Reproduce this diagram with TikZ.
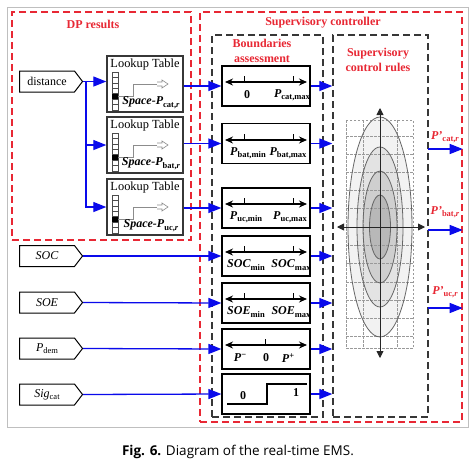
\documentclass[tikz,border=0pt]{standalone}
\usepackage{fontspec}
\setmainfont{Liberation Serif}
\newfontfamily\capfont{Open Sans}
\usetikzlibrary{arrows.meta,shapes.symbols}
\definecolor{dpred}{RGB}{232,40,52}
\definecolor{arrblue}{RGB}{10,10,235}
\definecolor{dgray}{RGB}{55,55,55}
\newcommand\Pb[2]{\textbf{\textit{#1}}\raisebox{-0.45ex}{\fontsize{8.5}{9}\selectfont\bfseries #2}}
\newcommand\Psup[2]{\textbf{\textit{#1}}\raisebox{0.75ex}{\fontsize{8.5}{9}\selectfont\bfseries #2}}
\newcommand\Preg[2]{\textit{#1}\raisebox{-0.45ex}{\fontsize{8.5}{9}\selectfont #2}}
\tikzset{
  redbox/.style={draw=dpred, dash pattern=on 7pt off 4pt, line width=1.4pt, inner sep=0pt},
  blkbox/.style={draw=dgray, dash pattern=on 7pt off 4pt, line width=1.4pt, inner sep=0pt},
  bluearr/.style={draw=arrblue, line width=1.3pt, -{Triangle[length=13pt,width=10pt]}},
  blueline/.style={draw=arrblue, line width=1.3pt},
  bndbox/.style={draw=black, line width=1.2pt, minimum width=88pt, minimum height=40pt, inner sep=0pt},
  lookbox/.style={draw=dgray, line width=1.4pt, minimum width=76pt, minimum height=56pt, inner sep=0pt},
  insig/.style={signal, signal to=east, signal pointer angle=105, draw=black, line width=1pt,
    minimum width=63pt, minimum height=21pt, inner sep=0pt, font=\fontsize{12}{14}\selectfont},
  rng/.style={black, line width=1.1pt, {Stealth[length=8pt,width=7pt]}-{Stealth[length=8pt,width=7pt]}},
  tick/.style={black, line width=0.9pt},
  txt/.style={font=\fontsize{12}{14}\selectfont, inner sep=0pt},
  redlbl/.style={text=dpred, font=\fontsize{12}{14}\selectfont\bfseries, inner sep=0pt, align=center},
  sq/.style={draw=black!70, line width=0.5pt},
  grayln/.style={draw=black!45, line width=0.7pt},
  grid/.style={draw=black!40, dash pattern=on 2.5pt off 1.5pt, line width=0.6pt},
  ell/.style={draw=black!60, line width=0.8pt},
  axis/.style={draw=black!85, line width=0.9pt, {Triangle[length=7pt,width=7pt]}-{Triangle[length=7pt,width=7pt]}}
}
\begin{document}
\begin{tikzpicture}[x=1pt,y=-1pt]
\useasboundingbox (0,0) rectangle (474,464);
\fill[white] (0,0) rectangle (474,464);
% outer frame and caption
\node[draw=black!25, line width=1pt, minimum width=461pt, minimum height=420pt, inner sep=0pt] (frame) at (237.5,217) {};
\node[font=\capfont\fontsize{13.5}{15}\selectfont, inner sep=0pt] (cap) at (238,452) {\textbf{Fig. 6.} Diagram of the real-time EMS.};
% containers
\node[redbox, minimum width=179pt, minimum height=228pt] (dp) at (101.5,126) {};
\node[redbox, minimum width=262pt, minimum height=410pt] (sup) at (331,217) {};
\node[blkbox, minimum width=111pt, minimum height=382pt] (bnd) at (267.5,226) {};
\node[blkbox, minimum width=95pt, minimum height=382pt] (rules) at (380.5,226) {};
\node[redlbl] (dpl) at (93,24) {DP results};
\node[redlbl] (supl) at (323,23) {Supervisory controller};
\node[redlbl, font=\fontsize{12}{15}\selectfont\bfseries] (bndl) at (262,51) {Boundaries\\assessment};
\node[redlbl, font=\fontsize{12}{15}\selectfont\bfseries] (rull) at (378,60) {Supervisory\\control rules};
% inputs
\node[insig] (dist) at (47,81.5) {distance};
\node[insig] (soc) at (47,256) {\textit{SOC}};
\node[insig] (soe) at (47,302.5) {\textit{SOE}};
\node[insig] (pdem) at (47,348.5) {\Preg{P}{dem}};
\node[insig] (sig) at (47,394.5) {\Preg{Sig}{cat}};
% lookup tables
\foreach \i/\T/\s in {1/56/cat,2/117/bat,3/179/uc}{
  \node[lookbox] (lk\i) at (145,\T+28) {};
  \node[txt, font=\fontsize{12.4}{14}\selectfont] (lkt\i) at (145,\T+8.5) {Lookup Table};
  \foreach \k in {0,...,6}{\draw[sq] (112,\T+16+\k*5.4) rectangle (118,\T+21.4+\k*5.4);}
  \fill[black] (112,\T+37.6) rectangle (118,\T+43);
  \draw[grayln] (118,\T+40.3) -- (133,\T+40.3) -- (133,\T+28) -- (157,\T+28);
  \draw[grayln, line width=0.6pt] (157,\T+26) -- (162,\T+26) -- (162,\T+24) -- (168,\T+28) -- (162,\T+32) -- (162,\T+30) -- (157,\T+30);
  \node[txt] (sp\i) at (151,\T+46.5) {\Pb{Space-P}{\s,\textit{r}}};
}
% boundary boxes
\node[bndbox] (b1) at (266,86) {};
\node[bndbox] (b2) at (266,143.5) {};
\node[bndbox] (b3) at (266,208) {};
\node[bndbox] (b4) at (266,256) {};
\node[bndbox] (b5) at (266,303) {};
\node[bndbox] (b6) at (266,349) {};
\node[bndbox] (b7) at (266,394) {};
\foreach \T in {66,124,188,236,283}{
  \draw[rng] (225,\T+16) -- (307,\T+16);
  \draw[tick] (244,\T+16) -- (244,\T+10);
  \draw[tick] (293,\T+16) -- (293,\T+10);
}
\node[txt] (l1a) at (247,95) {\textbf{0}};
\node[txt] (l1b) at (292,95) {\Pb{P}{cat,max}};
\node[txt] (l2a) at (248,153) {\Pb{P}{bat,min}};
\node[txt] (l2b) at (288,153) {\Pb{P}{bat,max}};
\node[txt] (l3a) at (246,217) {\Pb{P}{uc,min}};
\node[txt] (l3b) at (290,217) {\Pb{P}{uc,max}};
\node[txt] (l4a) at (246,265) {\Pb{SOC}{min}};
\node[txt] (l4b) at (291,265) {\Pb{SOC}{max}};
\node[txt] (l5a) at (246,312) {\Pb{SOE}{min}};
\node[txt] (l5b) at (291,312) {\Pb{SOE}{max}};
\draw[rng] (225,345) -- (307,345);
\draw[tick] (265,345) -- (265,339);
\node[txt] (l6a) at (240,358) {\Psup{P}{−}};
\node[txt] (l6b) at (266,358) {\textbf{0}};
\node[txt] (l6c) at (288,358) {\Psup{P}{+}};
\draw[black, line width=1.1pt] (227,404) -- (267,404) -- (267,384) -- (307,384);
\node[txt] (l7a) at (243,396) {\textbf{0}};
\node[txt] (l7b) at (296,393) {\textbf{1}};
% ellipse figure
\fill[black!5] (380,227) ellipse [x radius=32pt, y radius=110pt];
\fill[black!11] (380,227) ellipse [x radius=23pt, y radius=80pt];
\fill[black!19] (380,227) ellipse [x radius=17pt, y radius=56pt];
\fill[black!28] (380,227) ellipse [x radius=10.5pt, y radius=32pt];
\draw[grid] (346,120) rectangle (413,348);
\foreach \x in {363,397}{\draw[grid] (\x,120) -- (\x,348);}
\foreach \y in {136,154,172,190,208,245,263,282,300,318,336}{\draw[grid] (346,\y) -- (413,\y);}
\draw[ell] (380,227) ellipse [x radius=32pt, y radius=110pt];
\draw[ell] (380,227) ellipse [x radius=23pt, y radius=80pt];
\draw[ell] (380,227) ellipse [x radius=17pt, y radius=56pt];
\draw[ell] (380,227) ellipse [x radius=10.5pt, y radius=32pt];
\draw[axis] (380,108) -- (380,358);
\draw[axis] (337,227) -- (425,227);
% connectors
\coordinate (split) at (86,81.5);
\draw[blueline] (dist.east) -- (split);
\draw[bluearr] (split) -- (split -| lk1.west);
\draw[bluearr] (split) |- (lk2.west);
\draw[bluearr] (split) |- (lk3.west);
\draw[bluearr] (lk1.east |- b1.west) -- (b1.west);
\draw[bluearr] (lk2.east |- b2.west) -- (b2.west);
\draw[bluearr] (lk3.east |- b3.west) -- (b3.west);
\draw[bluearr] (soc.east) -- (b4.west);
\draw[bluearr] (soe.east) -- (b5.west);
\draw[bluearr] (pdem.east) -- (b6.west);
\draw[bluearr] (sig.east) -- (b7.west);
\foreach \i in {1,...,7}{\draw[bluearr] (b\i.east) -- (b\i.east -| rules.west);}
% outputs
\coordinate (o1) at (428,149);
\coordinate (o2) at (428,230);
\coordinate (o3) at (428,308);
\draw[bluearr] (o1) -- (o1 -| sup.east);
\draw[bluearr] (o2) -- (o2 -| sup.east);
\draw[bluearr] (o3) -- (o3 -| sup.east);
\node[txt, text=dpred] (po1) at (445,137) {\Pb{P'}{cat,\textit{r}}};
\node[txt, text=dpred] (po2) at (445,212) {\Pb{P'}{bat,\textit{r}}};
\node[txt, text=dpred] (po3) at (445,292) {\Pb{P'}{uc,\textit{r}}};
\end{tikzpicture}
\end{document}
